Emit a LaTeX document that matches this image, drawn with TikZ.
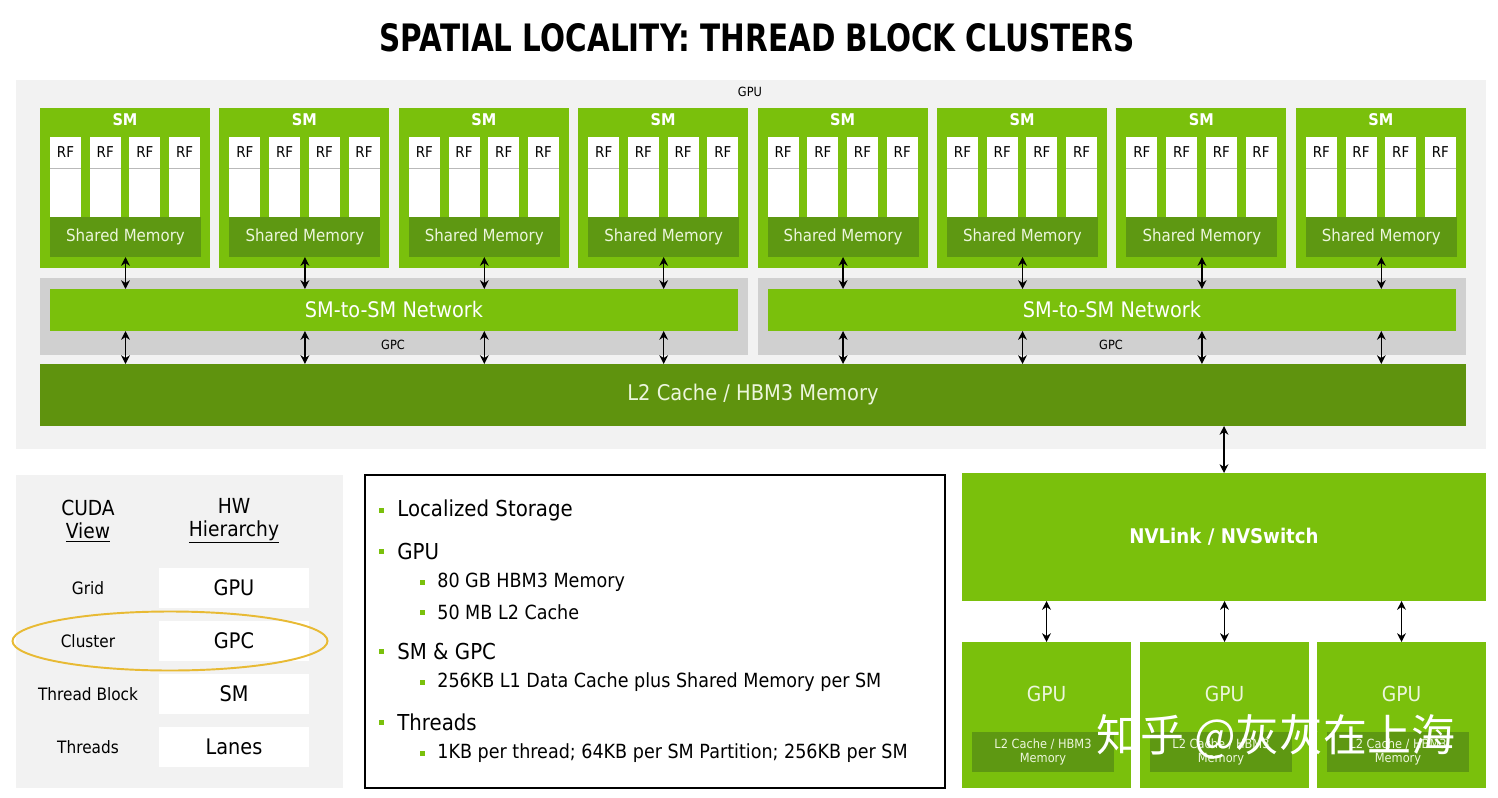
\documentclass[tikz,border=0pt]{standalone}
\usepackage{fontspec}
\setmainfont{DejaVu Sans}[FakeStretch=0.9]
\newfontfamily\titlefont{DejaVu Sans}[FakeStretch=0.78]
\newfontfamily\cjkfont{Noto Sans CJK SC}
\usetikzlibrary{arrows.meta,positioning,shapes.geometric}
\definecolor{nvgreen}{RGB}{122, 192, 12}
\definecolor{nvshared}{RGB}{94, 152, 18}
\definecolor{nvdark}{RGB}{95, 147, 14}
\definecolor{nvpale}{RGB}{236, 246, 220}
\definecolor{gpubg}{RGB}{242, 242, 242}
\definecolor{gpcgray}{RGB}{208, 208, 208}
\definecolor{rfline}{RGB}{185, 185, 185}
\definecolor{ringgold}{RGB}{232, 186, 52}
\newcommand\fs[2]{\fontsize{#1}{#2}\selectfont}

\begin{document}
\begin{tikzpicture}[
    x=0.02cm, y=-0.02cm,
    box/.style={inner sep=0pt, outer sep=0pt, anchor=north west},
    smbox/.style={box, fill=nvgreen, minimum width=170*\u, minimum height=160*\u},
    rftop/.style={box, fill=white, minimum width=31*\u, minimum height=31*\u,
                  font=\fs{8.5}{10}},
    rfbody/.style={box, fill=white, minimum width=31*\u, minimum height=49*\u},
    shbox/.style={box, fill=nvshared, minimum width=151*\u, minimum height=40*\u,
                  text=nvpale, font=\fs{9.5}{11}},
    gpcbox/.style={box, fill=gpcgray, minimum width=708*\u, minimum height=77*\u},
    netbox/.style={box, fill=nvgreen, minimum width=688*\u, minimum height=42*\u,
                   text=white, font=\fs{12.2}{14}},
    gpubox/.style={box, fill=nvgreen, minimum width=169*\u, minimum height=146*\u},
    memsmall/.style={box, fill=nvshared, minimum width=142*\u, minimum height=40*\u,
                     text=nvpale, font=\fs{7.2}{8.4}, align=center},
    hwcell/.style={fill=white, inner sep=0pt, minimum width=150*\u,
                   minimum height=40*\u, font=\fs{12.2}{14}},
    cudalbl/.style={font=\fs{9.7}{11}},
    small/.style={font=\fs{7.2}{8.5}},
    bullet/.style={fill=nvgreen, inner sep=0pt, minimum size=5*\u},
    biarrow/.style={{Stealth[length=5pt,width=5pt]}-{Stealth[length=5pt,width=5pt]},
                    line width=0.8pt, black},
]

\def\u{0.02cm} % one pixel

\fill[white] (0,0) rectangle (1498,798);
\useasboundingbox (0,0) rectangle (1498,798);

% ================================================================
% TITLE
% ================================================================
\node[font=\titlefont\bfseries\fs{21.5}{24}] (title) at (757,38)
  {SPATIAL LOCALITY: THREAD BLOCK CLUSTERS};

% ================================================================
% GPU FRAME
% ================================================================
\node[box, fill=gpubg, minimum width=1470*\u, minimum height=369*\u] (gpu) at (16,80) {};
\node[small] (gput) at (750,92) {GPU};

% ================================================================
% GPC BLOCKS with SM-to-SM network
% ================================================================
\foreach \g/\gx in {0/40, 1/758} {
  \node[gpcbox] (gpc\g) at (\gx,278) {};
  \node[netbox] (net\g) at (\gx+10,289) {SM-to-SM Network};
  \node[small] (gpct\g) at (\gx+353,345) {GPC};
}

% ================================================================
% SM BLOCKS (8): register files + shared memory
% ================================================================
\foreach \i in {0,...,7} {
  \pgfmathsetmacro{\sx}{40 + \i*179.4}
  \node[smbox] (sm\i) at (\sx,108) {};
  \node[font=\bfseries\fs{9.2}{11}, text=white] (smt\i) at (\sx+85,120) {SM};
  \foreach \j in {0,...,3} {
    \pgfmathsetmacro{\rx}{\sx + 10 + \j*39.7}
    \node[rftop] (rf\i\j) at (\rx,137) {RF};
    \node[rfbody] (rfb\i\j) at (\rx,168) {};
    \draw[rfline, line width=0.5pt] (rf\i\j.south west) -- (rf\i\j.south east);
  }
  \node[shbox] (sh\i) at (\sx+10,217) {Shared Memory};
}

% ================================================================
% L2 CACHE
% ================================================================
\node[box, fill=nvdark, minimum width=1426*\u, minimum height=62*\u,
      text=nvpale, font=\fs{12.3}{14}] (l2) at (40,364) {L2 Cache / HBM3 Memory};

% arrows SM -> network -> L2
\foreach \i in {0,...,7} {
  \pgfmathtruncatemacro{\g}{int(\i/4)}
  \draw[biarrow] (sh\i.south) -- (sh\i.south |- net\g.north);
  \draw[biarrow] (sh\i.south |- net\g.south) -- (sh\i.south |- l2.north);
}

% ================================================================
% NVLINK / NVSWITCH and other GPUs
% ================================================================
\node[box, fill=nvgreen, minimum width=524*\u, minimum height=128*\u,
      text=white, font=\bfseries\fs{11.5}{13}] (nvl) at (962,473) {NVLink / NVSwitch};
\draw[biarrow] (nvl.north |- l2.south) -- (nvl.north);

\foreach \k/\gx in {0/962, 1/1140, 2/1317} {
  \node[gpubox] (g\k) at (\gx,642) {};
  \node[text=nvpale, font=\fs{11.8}{13}] (gl\k) at (\gx+84.5,694) {GPU};
  \node[memsmall] (gm\k) at (\gx+10,732) {L2 Cache / HBM3\\Memory};
  \draw[biarrow] (g\k.north |- nvl.south) -- (g\k.north);
}

% ================================================================
% CUDA VIEW vs HW HIERARCHY
% ================================================================
\node[box, fill=gpubg, minimum width=327*\u, minimum height=313*\u] (tbl) at (16,475) {};
\node[align=center, font=\fs{11.8}{13}] (hcuda) at (88,521) {CUDA\\\underline{View}};
\node[align=center, font=\fs{11.8}{13}] (hhw) at (234,521) {HW\\\underline{Hierarchy}};

\foreach \lab/\hw [count=\r from 0] in {Grid/GPU, Cluster/GPC, Thread Block/SM, Threads/Lanes} {
  \pgfmathsetmacro{\ry}{588 + \r*53}
  \node[cudalbl] (cv\r) at (88,\ry) {\lab};
  \node[hwcell] (hw\r) at (234,\ry) {\hw};
}

\node[draw=ringgold, line width=1.1pt, ellipse, inner sep=0pt,
      minimum width=315*\u, minimum height=59*\u] (ring) at (170,641) {};

% ================================================================
% LOCALIZED STORAGE LIST
% ================================================================
\node[box, draw=black, line width=0.6pt, fill=white,
      minimum width=580*\u, minimum height=313*\u] (bul) at (365,475) {};

\foreach \lv/\txt/\by [count=\n] in {
  1/{Localized Storage}/510,
  1/{GPU}/551,
  2/{80 GB HBM3 Memory}/582,
  2/{50 MB L2 Cache}/612,
  1/{SM \& GPC}/651,
  2/{256KB L1 Data Cache plus Shared Memory per SM}/682,
  1/{Threads}/722,
  2/{1KB per thread; 64KB per SM Partition; 256KB per SM}/753} {
  \ifnum\lv=1
    \node[bullet] (bq\n) at (381,\by) {};
    \node[anchor=west, inner sep=0pt, font=\fs{12.5}{14}] (bl\n) at (397,\by) {\txt};
  \else
    \node[bullet] (bq\n) at (422,\by) {};
    \node[anchor=west, inner sep=0pt, font=\fs{11.1}{13}] (bl\n) at (437,\by) {\txt};
  \fi
}

% ================================================================
% WATERMARK
% ================================================================
\node[text=white, font=\cjkfont\fs{25}{29}] (wm) at (1276,737) {知乎 @灰灰在上海};

\end{tikzpicture}
\end{document}
